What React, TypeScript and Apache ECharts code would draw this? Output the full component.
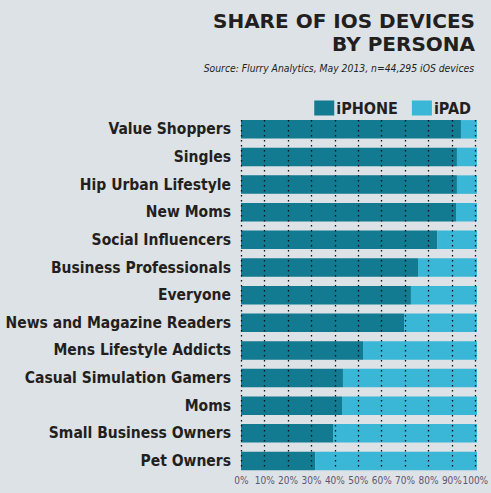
import { useEffect, useRef } from 'react';
import * as echarts from 'echarts';

const personas = [
  'Value Shoppers',
  'Singles',
  'Hip Urban Lifestyle',
  'New Moms',
  'Social Influencers',
  'Business Professionals',
  'Everyone',
  'News and Magazine Readers',
  'Mens Lifestyle Addicts',
  'Casual Simulation Gamers',
  'Moms',
  'Small Business Owners',
  'Pet Owners',
];
const iphoneShare = [93.2, 91.5, 91.5, 91.1, 83.1, 75.0, 72.0, 69.1, 51.7, 43.2, 42.8, 39.0, 31.4];
const ipadShare = iphoneShare.map(v => +(100 - v).toFixed(1));
const tickStep = 10;

const NARROW = '"DejaVu Sans Condensed", "DejaVu Sans", sans-serif';
const INK = '#231f20';

export default function App() {
  const chartRef = useRef<HTMLDivElement>(null);

  useEffect(() => {
    document.body.style.margin = '0';
    if (!chartRef.current) return;
    const chart = echarts.init(chartRef.current, null, { renderer: 'svg' });

    const titleStyle = {
      align: 'right',
      fontFamily: '"DejaVu Sans", sans-serif',
      fontWeight: 'bold',
      fontSize: 20,
      fill: INK,
    };

    const option = {
      animation: false,
      backgroundColor: '#dde2e6',
      graphic: [
        { type: 'text', right: 16, top: 11, style: { ...titleStyle, text: 'SHARE OF IOS DEVICES' } },
        { type: 'text', right: 16, top: 34, style: { ...titleStyle, text: 'BY PERSONA' } },
        {
          type: 'text',
          right: 17,
          top: 63,
          style: {
            text: 'Source: Flurry Analytics, May 2013, n=44,295 iOS devices',
            align: 'right',
            fontFamily: NARROW,
            fontStyle: 'italic',
            fontSize: 10.3,
            fill: INK,
          },
        },
      ],
      legend: {
        right: 15,
        top: 95,
        icon: 'rect',
        itemWidth: 20,
        itemHeight: 15,
        itemGap: 14,
        data: ['iPHONE', 'iPAD'],
        textStyle: {
          fontFamily: NARROW,
          fontWeight: 'bold',
          fontSize: 16,
          color: INK,
          padding: [0, 0, 0, -3],
        },
      },
      grid: [
        { left: 241, width: 236, top: 115.5, height: 359.3, outerBoundsMode: 'none' },
        { left: 241.3, width: 234, top: 120, height: 350, outerBoundsMode: 'none' },
      ],
      xAxis: [
        {
          type: 'value',
          gridIndex: 0,
          min: 0,
          max: 100,
          show: false,
        },
        {
          type: 'value',
          gridIndex: 1,
          min: 0,
          max: 100,
          interval: tickStep,
          z: 10,
          axisLine: { show: false },
          axisTick: { show: false },
          axisLabel: {
            formatter: '{value}%',
            fontFamily: NARROW,
            fontSize: 10,
            color: '#5d5670',
            margin: 5,
          },
          splitLine: {
            show: true,
            lineStyle: { color: '#111', type: [1.5, 3.5], width: 1.3 },
          },
        },
      ],
      yAxis: [
        {
          type: 'category',
          gridIndex: 0,
          inverse: true,
          data: personas,
          axisLine: { show: false },
          axisTick: { show: false },
          axisLabel: {
            margin: 10,
            fontFamily: NARROW,
            fontWeight: 'bold',
            fontSize: 15.5,
            color: INK,
          },
        },
        {
          type: 'category',
          gridIndex: 1,
          data: personas,
          show: false,
        },
      ],
      series: [
        {
          name: 'iPHONE',
          type: 'bar',
          stack: 'share',
          xAxisIndex: 0,
          yAxisIndex: 0,
          barWidth: 18.5,
          itemStyle: { color: '#127a91' },
          data: iphoneShare,
        },
        {
          name: 'iPAD',
          type: 'bar',
          stack: 'share',
          xAxisIndex: 0,
          yAxisIndex: 0,
          barWidth: 18.5,
          itemStyle: { color: '#3ab6d7' },
          data: ipadShare,
        },
      ],
    };

    chart.setOption(option);
    return () => {
      chart.dispose();
    };
  }, []);

  return <div ref={chartRef} style={{ width: 491, height: 493 }} />;
}
